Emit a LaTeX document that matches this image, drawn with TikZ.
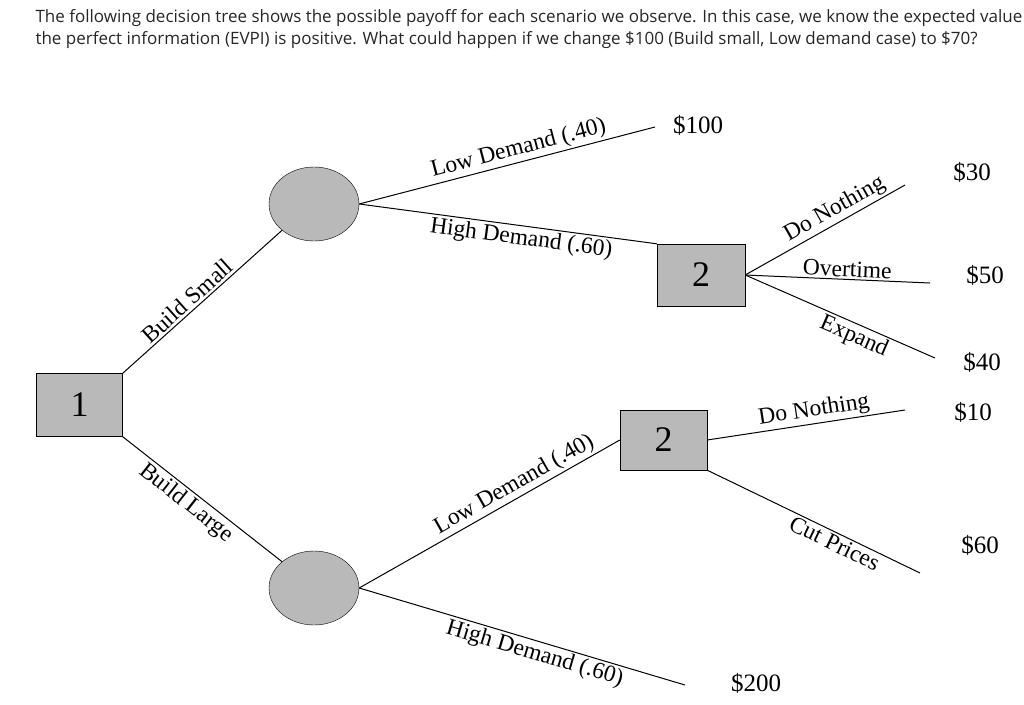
\documentclass[tikz,border=0pt]{standalone}
\usepackage{fontspec}
\usetikzlibrary{shapes.geometric}
\setmainfont{Liberation Serif}
\newfontfamily\hdr{Open Sans}
\begin{document}
\begin{tikzpicture}[x=1pt,y=-1pt,
  box/.style={draw,fill=gray!55,minimum width=86pt,minimum height=63pt,font=\fontsize{36}{38}\selectfont},
  chance/.style={draw,fill=gray!55,ellipse,minimum width=90pt,minimum height=74pt},
  lab/.style={font=\fontsize{23.5}{26}\selectfont,sloped,above,inner sep=2pt},
  pay/.style={font=\fontsize{25}{28}\selectfont},
  br/.style={line width=1pt}]
\useasboundingbox (0,0) rectangle (1024,704);
\begin{scope}
\clip (0,0) rectangle (1024,704);
\node[anchor=west,font=\hdr\fontsize{17}{20}\selectfont,text=black!85] (h1) at (32,18) {The following decision tree shows the possible payoff for each scenario we observe. In this case, we know the expected value of};
\end{scope}
\node[anchor=west,font=\hdr\fontsize{17}{20}\selectfont,text=black!85] (h2) at (32,40) {the perfect information (EVPI) is positive. What could happen if we change \$100 (Build small, Low demand case) to \$70?};

\node[box] (s1) at (79.5,405) {1};
\node[chance] (c1) at (314,204) {};
\node[chance] (c2) at (314,588) {};
\node[box,minimum width=88pt,minimum height=62pt] (s2) at (701,275) {2};
\node[box,minimum width=87pt,minimum height=60pt] (s3) at (663.5,440) {2};

\coordinate (e1) at (655,127);
\coordinate (e2) at (905,185);
\coordinate (e3) at (930,283);
\coordinate (e4) at (935,358);
\coordinate (e5) at (905,410);
\coordinate (e6) at (920,573);
\coordinate (e7) at (685,685);

\draw[br] (s1.north east) -- node[lab,pos=0.45]{Build Small} (c1.south west);
\draw[br] (s1.south east) -- node[lab,pos=0.45,below]{Build Large} (c2.north west);
\draw[br] (c1.east) -- node[lab,pos=0.55]{Low Demand (.40)} (e1);
\draw[br] (c1.east) -- node[lab,pos=0.55,below]{High Demand (.60)} (s2.north west);
\draw[br] (s2.east) -- node[lab,pos=0.6]{Do Nothing} (e2);
\draw[br] (s2.east) -- node[lab,pos=0.55]{Overtime} (e3);
\draw[br] (s2.east) -- node[lab,pos=0.6,below]{Expand} (e4);
\draw[br] (c2.east) -- node[lab,pos=0.62]{Low Demand (.40)} (s3.west);
\draw[br] (c2.east) -- node[lab,pos=0.55,below]{High Demand (.60)} (e7);
\draw[br] (s3.east) -- node[lab,pos=0.55]{Do Nothing} (e5);
\draw[br] (s3.south east) -- node[lab,pos=0.62,below]{Cut Prices} (e6);

\node[pay] (p1) at (698,125) {\$100};
\node[pay] (p2) at (972,172) {\$30};
\node[pay] (p3) at (985,275) {\$50};
\node[pay] (p4) at (982,362) {\$40};
\node[pay] (p5) at (973,412) {\$10};
\node[pay] (p6) at (980,545) {\$60};
\node[pay] (p7) at (756,683) {\$200};
\end{tikzpicture}
\end{document}
